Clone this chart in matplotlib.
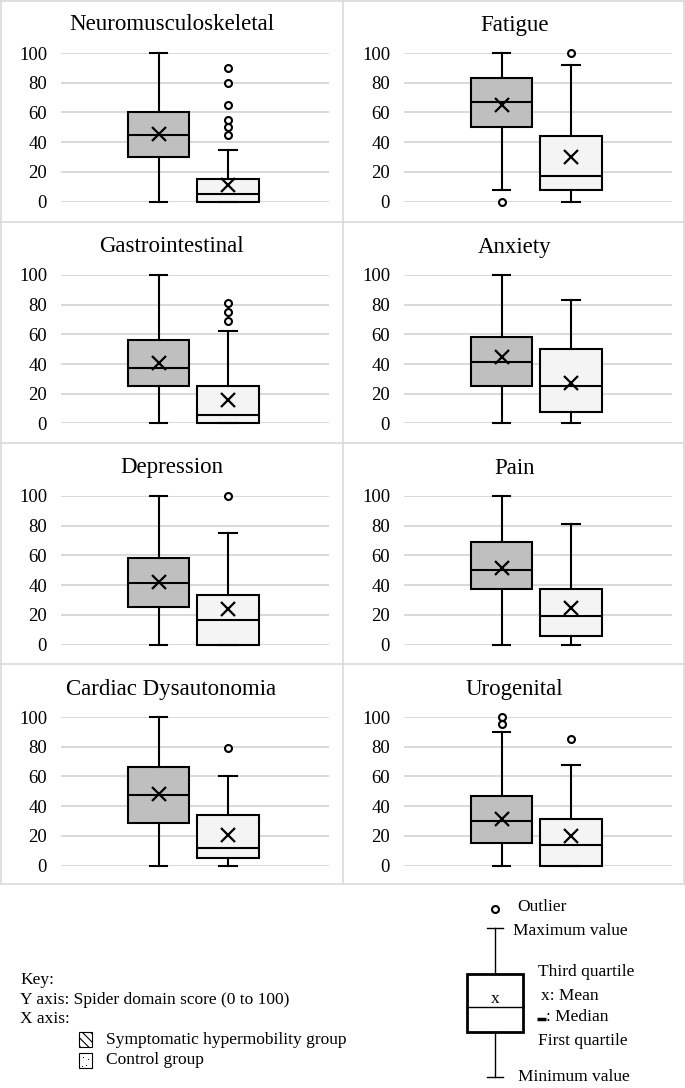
import matplotlib
matplotlib.use("Agg")
from matplotlib import pyplot as plt
from matplotlib.patches import Rectangle

plt.rcParams['font.family'] = ['Liberation Serif', 'DejaVu Serif']
plt.rcParams['hatch.linewidth'] = 0.8

# Spider domains, order as in the 2x4 grid (row by row)
domains = ['Neuromusculoskeletal', 'Fatigue', 'Gastrointestinal', 'Anxiety',
           'Depression', 'Pain', 'Cardiac Dysautonomia', 'Urogenital']

# symptomatic hypermobility group
sym_min = [0, 8, 0, 0, 0, 0, 0, 0]
sym_q1 = [30, 50, 25, 25, 25, 37.5, 28.5, 15]
sym_med = [45, 67, 37.5, 41.5, 41.5, 50, 47.5, 30]
sym_q3 = [60, 83, 56, 58, 58, 69, 66.5, 47]
sym_max = [100, 100, 100, 100, 100, 100, 100, 90]
sym_mean = [45.5, 65, 41, 45, 42, 51.5, 48, 31.5]
sym_out = [[], [0], [], [], [], [], [], [95, 100]]

# control group
ctl_min = [0, 0, 0, 0, 0, 0, 0, 0]
ctl_q1 = [0, 8, 0, 8, 0, 6, 5, 0]
ctl_med = [5, 17, 6, 25, 16.5, 19, 12, 13.5]
ctl_q3 = [15, 44, 25, 50, 33, 37.5, 34, 31]
ctl_max = [35, 92, 62.5, 83, 75, 81, 60, 68]
ctl_mean = [11, 30, 15.5, 27, 24, 24.5, 20.5, 20]
ctl_out = [[45, 50, 55, 65, 80, 90], [100], [69, 75, 81], [], [100], [], [79], [85]]

yticks = [0, 20, 40, 60, 80, 100]

W, H = 685, 1088
fig = plt.figure(figsize=(W / 100, H / 100), dpi=100)

# overlay in pixel units for the cell borders and the key
bg = fig.add_axes([0, 0, 1, 1])
bg.set_xlim(0, W)
bg.set_ylim(H, 0)
bg.axis('off')

grey = '#d9d9d9'
col_x = [0, 343]
row_y = [0, 222, 443, 664]
for x in [0.8, 343, 684.2]:
    bg.plot([x, x], [0, 884], color=grey, lw=1.2)
for y in [0.8, 222, 443, 664, 884]:
    bg.plot([0, W], [y, y], color=grey, lw=1.2)

def make_stats(i):
    s = dict(whislo=sym_min[i], q1=sym_q1[i], med=sym_med[i], q3=sym_q3[i],
             whishi=sym_max[i], mean=sym_mean[i], fliers=sym_out[i])
    c = dict(whislo=ctl_min[i], q1=ctl_q1[i], med=ctl_med[i], q3=ctl_q3[i],
             whishi=ctl_max[i], mean=ctl_mean[i], fliers=ctl_out[i])
    return [s, c]

for i, name in enumerate(domains):
    r, c = i // 2, i % 2
    left = col_x[c] + 61
    top = row_y[r] + 53
    bottom = row_y[r] + 201.5
    ax = fig.add_axes([left / W, 1 - bottom / H, 268 / W, (bottom - top) / H])
    ax.set_facecolor('none')

    art = ax.bxp(make_stats(i), positions=[0.364, 0.623], widths=0.228,
                 capwidths=0.065, showmeans=True, patch_artist=True,
                 boxprops=dict(linewidth=1.5, edgecolor='black'),
                 whiskerprops=dict(linewidth=1.5, color='black'),
                 capprops=dict(linewidth=1.5, color='black'),
                 medianprops=dict(linewidth=1.5, color='black'),
                 meanprops=dict(marker='x', markersize=9.5, markeredgecolor='black',
                                markeredgewidth=1.6),
                 flierprops=dict(marker='o', markersize=5, markerfacecolor='white',
                                 markeredgecolor='black', markeredgewidth=1.5))
    art['boxes'][0].set_facecolor('#bfbfbf')
    art['boxes'][1].set_facecolor('#f4f4f4')
    for key in art:
        for a in art[key]:
            a.set_clip_on(False)

    ax.set_xlim(0, 1)
    ax.set_ylim(0, 100)
    ax.set_yticks(yticks)
    ax.set_xticks([])
    ax.tick_params(axis='y', length=0, pad=10, labelsize=13.5)
    for sp in ax.spines.values():
        sp.set_visible(False)
    ax.grid(axis='y', color=grey, lw=1.4)
    ax.set_axisbelow(True)

    bg.text(col_x[c] + 171.5, row_y[r] + 25, name, ha='center', va='center',
            fontsize=16.5)

# key, left side
fs = 12.5
bg.text(20, 980, 'Key:', va='center', fontsize=fs)
bg.text(20, 1000, 'Y axis: Spider domain score (0 to 100)', va='center', fontsize=fs)
bg.text(20, 1019, 'X axis:', va='center', fontsize=fs)
bg.add_patch(Rectangle((79, 1032), 13, 15, fill=False, edgecolor='black',
                       lw=0.8, hatch='\\\\\\\\'))
bg.text(106, 1040, 'Symptomatic hypermobility group', va='center', fontsize=fs)
bg.add_patch(Rectangle((79, 1053), 13, 15, fill=False, edgecolor='black', lw=0.8))
bg.scatter([83, 88, 86, 82], [1057, 1059, 1065, 1066], s=0.5, color='black',
           linewidths=0)
bg.text(106, 1060, 'Control group', va='center', fontsize=fs)

# key, right side: box explanation
kx = 495
bg.plot([kx], [909], marker='o', markersize=5, markerfacecolor='white',
        markeredgecolor='black', markeredgewidth=1.5)
bg.text(517, 907, 'Outlier', va='center', fontsize=fs)
bg.plot([kx - 8, kx + 8], [928, 928], color='black', lw=1)
bg.plot([kx, kx], [928, 974], color='black', lw=1)
bg.text(513, 931, 'Maximum value', va='center', fontsize=fs)
bg.add_patch(Rectangle((467, 974), 56, 58, fill=False, edgecolor='black', lw=2))
bg.plot([467, 523], [1007, 1007], color='black', lw=1)
bg.text(kx, 999, 'x', ha='center', va='center', fontsize=fs)
bg.plot([kx, kx], [1032, 1077], color='black', lw=1)
bg.plot([kx - 8, kx + 8], [1077, 1077], color='black', lw=1)
bg.text(538, 972, 'Third quartile', va='center', fontsize=fs)
bg.text(541, 996, 'x: Mean', va='center', fontsize=fs)
bg.plot([537, 546], [1019, 1019], color='black', lw=2.5, solid_capstyle='butt')
bg.text(546, 1017, ': Median', va='center', fontsize=fs)
bg.text(538, 1041, 'First quartile', va='center', fontsize=fs)
bg.text(518, 1077, 'Minimum value', va='center', fontsize=fs)

fig.savefig('out.png', dpi=100)
